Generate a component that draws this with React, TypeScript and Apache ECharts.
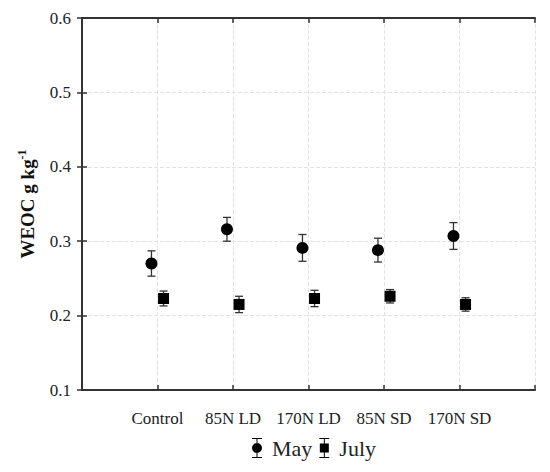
import { useEffect, useRef } from "react";
import * as echarts from "echarts";

const categories = ["Control", "85N LD", "170N LD", "85N SD", "170N SD"];
const mayMean = [0.27, 0.316, 0.291, 0.288, 0.307];
const mayErr = [0.017, 0.016, 0.018, 0.016, 0.018];
const julyMean = [0.223, 0.215, 0.223, 0.226, 0.215];
const julyErr = [0.01, 0.011, 0.011, 0.009, 0.009];
const yTicks = [0.1, 0.2, 0.3, 0.4, 0.5, 0.6];

const OFFSET = 0.08;
const FONT = "'Liberation Serif', 'Times New Roman', serif";
const AXIS_COLOR = "#333";

// legend icons: error bar with a circle / a square on it
const circleIcon =
  "path://M0,0H10V1H0Z M4.5,1H5.5V19H4.5Z M0,19H10V20H0Z M5,5A5,5 0 1,1 5,15A5,5 0 1,1 5,5Z";
const squareIcon =
  "path://M0,0H10V1H0Z M4.5,1H5.5V19H4.5Z M0,19H10V20H0Z M0.5,5.5H9.5V14.5H0.5Z";

function points(mean: number[], dx: number) {
  return mean.map((v, i) => [i + 1 + dx, v]);
}

function bars(mean: number[], err: number[], dx: number) {
  return mean.map((v, i) => [i + 1 + dx, v - err[i], v + err[i]]);
}

function renderErrorBar(params: any, api: any) {
  const x = api.value(0);
  const lo = api.coord([x, api.value(1)]);
  const hi = api.coord([x, api.value(2)]);
  const half = 4;
  const style = { stroke: AXIS_COLOR, lineWidth: 1.3 };
  return {
    type: "group",
    children: [
      { type: "line", shape: { x1: lo[0], y1: lo[1], x2: hi[0], y2: hi[1] }, style },
      { type: "line", shape: { x1: lo[0] - half, y1: lo[1], x2: lo[0] + half, y2: lo[1] }, style },
      { type: "line", shape: { x1: hi[0] - half, y1: hi[1], x2: hi[0] + half, y2: hi[1] }, style },
    ],
  };
}

const App = () => {
  const chartRef = useRef<HTMLDivElement>(null);

  useEffect(() => {
    const chart = echarts.init(chartRef.current, null, { renderer: "svg" });
    const axisLine = { show: true, lineStyle: { color: AXIS_COLOR, width: 2 } };
    const axisTick = { show: true, inside: true, length: 5, lineStyle: { color: AXIS_COLOR, width: 1.5 } };
    const splitLine = { show: true, lineStyle: { color: "#e3e3e3", type: "dashed", width: 1 } };

    chart.setOption({
      animation: false,
      backgroundColor: "#fff",
      grid: { left: 70, right: 7, top: 10, bottom: 82 },
      legend: {
        top: 424,
        left: 239,
        itemWidth: 14,
        itemHeight: 20,
        itemGap: 7,
        textStyle: { fontFamily: FONT, fontSize: 22, color: "#222", padding: [0, 0, 0, 3] },
        data: [
          { name: "May", icon: circleIcon, itemStyle: { color: "#000" } },
          { name: "July", icon: squareIcon, itemStyle: { color: "#000" } },
        ],
      },
      xAxis: [
        {
          type: "value",
          position: "bottom",
          min: 0,
          max: 6,
          interval: 1,
          axisLine,
          axisTick,
          splitLine,
          axisLabel: {
            margin: 20,
            fontFamily: FONT,
            fontSize: 17,
            color: "#222",
            formatter: (v: number) => categories[v - 1] ?? "",
          },
        },
        {
          type: "value",
          position: "top",
          min: 0,
          max: 6,
          interval: 1,
          axisLine,
          axisTick,
          splitLine: { show: false },
          axisLabel: { show: false },
        },
      ],
      yAxis: [
        {
          type: "value",
          position: "left",
          min: yTicks[0],
          max: yTicks[yTicks.length - 1],
          interval: 0.1,
          axisLine,
          axisTick,
          splitLine,
          axisLabel: {
            margin: 11,
            fontFamily: FONT,
            fontSize: 17,
            color: "#222",
            formatter: (v: number) => v.toFixed(1),
          },
          name: "WEOC g kg{sup|-1}",
          nameLocation: "middle",
          nameRotate: 90,
          nameGap: 44,
          nameTextStyle: {
            fontFamily: FONT,
            fontSize: 19,
            fontWeight: "bold",
            color: "#111",
            rich: {
              sup: {
                fontFamily: FONT,
                fontSize: 12,
                fontWeight: "bold",
                color: "#111",
                padding: [0, 0, 10, 0],
              },
            },
          },
        },
        {
          type: "value",
          position: "right",
          min: yTicks[0],
          max: yTicks[yTicks.length - 1],
          interval: 0.1,
          axisLine,
          axisTick,
          splitLine: { show: false },
          axisLabel: { show: false },
        },
      ],
      series: [
        {
          name: "May err",
          type: "custom",
          renderItem: renderErrorBar,
          data: bars(mayMean, mayErr, -OFFSET),
          z: 1,
        },
        {
          name: "July err",
          type: "custom",
          renderItem: renderErrorBar,
          data: bars(julyMean, julyErr, OFFSET),
          z: 1,
        },
        {
          name: "May",
          type: "scatter",
          symbol: "circle",
          symbolSize: 12,
          itemStyle: { color: "#000", opacity: 1 },
          data: points(mayMean, -OFFSET),
          z: 3,
        },
        {
          name: "July",
          type: "scatter",
          symbol: "rect",
          symbolSize: 11,
          itemStyle: { color: "#000", opacity: 1 },
          data: points(julyMean, OFFSET),
          z: 3,
        },
      ],
    });
    return () => {
      chart.dispose();
    };
  }, []);

  return <div ref={chartRef} style={{ width: "534px", height: "464px" }}></div>;
};

export default App;
